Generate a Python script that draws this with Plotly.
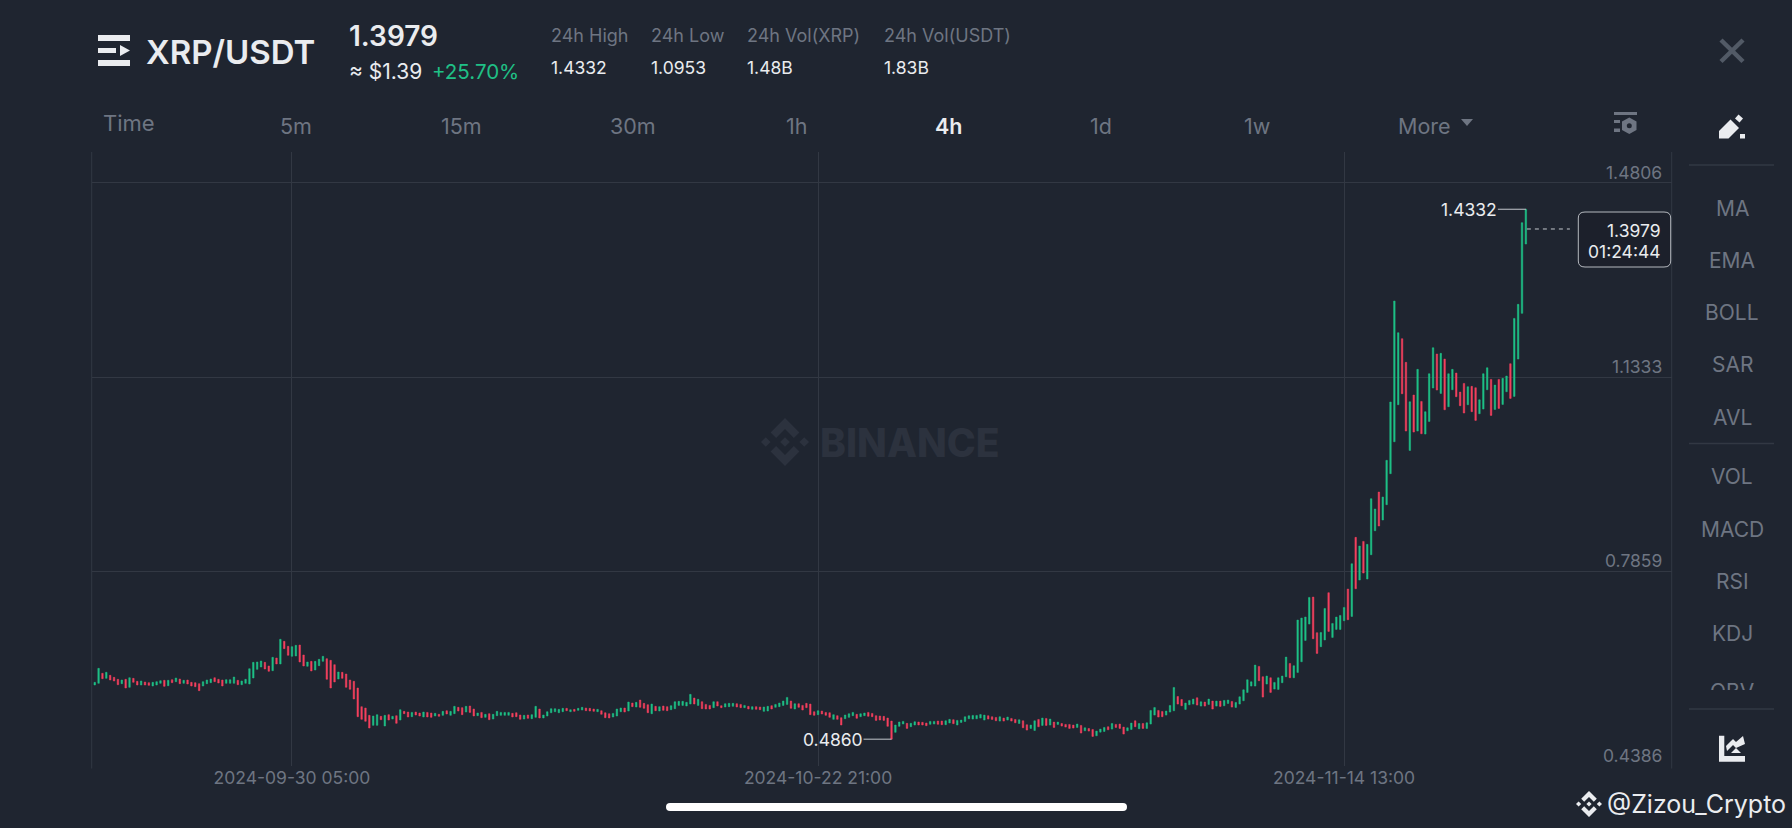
import pandas as pd
import plotly.graph_objects as go

W = 1792
H = 828
BG = "#1f2530"
GRID = "#323843"
GRAY = "#6e7582"
WHITE = "#eaecef"
UP = "#1fc086"
DOWN = "#f5405e"
FONT = "Inter"

first_candle = "2024-09-21 17:00"
x_range = ["2024-09-21 13:53", "2024-11-28 15:48"]
x_ticks = ["2024-09-30 05:00", "2024-10-22 21:00", "2024-11-14 13:00"]
y_range = [0.4386, 1.5355]
y_ticks = [0.4386, 0.7859, 1.1333, 1.4806]
y_tick_labels = ["0.4386", "0.7859", "1.1333", "1.4806"]
period_high = 1.4332
period_low = 0.4860
last_price = 1.3979

candle_high = [
    .5876, .6126, .6037, .6055, .6001, .5965, .5930, .5918, .5930, .5959,
    .5947, .5894, .5900, .5882, .5870, .5876, .5888, .5906, .5912, .5912,
    .5924, .5953, .5935, .5912, .5918, .5876, .5870, .5852, .5888, .5918,
    .5935, .5959, .5930, .5918, .5924, .5924, .5971, .5912, .5900, .5930,
    .6120, .6233, .6239, .6257, .6233, .6168, .6323, .6311, .6645, .6609,
    .6520, .6514, .6537, .6543, .6365, .6239, .6251, .6251, .6287, .6341,
    .6299, .6269, .6192, .6061, .6055, .6025, .5918, .5894, .5775, .5441,
    .5417, .5286, .5274, .5298, .5268, .5286, .5298, .5268, .5280, .5387,
    .5357, .5345, .5339, .5345, .5328, .5345, .5339, .5328, .5322, .5304,
    .5357, .5369, .5357, .5447, .5429, .5423, .5447, .5453, .5399, .5328,
    .5339, .5304, .5316, .5304, .5357, .5339, .5339, .5339, .5322, .5333,
    .5292, .5286, .5292, .5298, .5447, .5399, .5292, .5351, .5405, .5405,
    .5393, .5411, .5411, .5387, .5393, .5411, .5429, .5417, .5411, .5399,
    .5393, .5369, .5333, .5315, .5321, .5399, .5417, .5417, .5524, .5506,
    .5518, .5560, .5500, .5476, .5488, .5447, .5441, .5453, .5441, .5459,
    .5530, .5536, .5536, .5518, .5661, .5596, .5572, .5530, .5482, .5464,
    .5530, .5530, .5459, .5494, .5500, .5500, .5494, .5482, .5464, .5447,
    .5441, .5441, .5435, .5435, .5447, .5459, .5482, .5506, .5542, .5607,
    .5542, .5494, .5494, .5464, .5500, .5488, .5351, .5369, .5363, .5339,
    .5333, .5298, .5280, .5244, .5292, .5315, .5339, .5304, .5315, .5327,
    .5339, .5321, .5280, .5274, .5268, .5238, .5184, .5113, .5167, .5178,
    .5143, .5143, .5172, .5167, .5161, .5149, .5178, .5178, .5184, .5184,
    .5190, .5214, .5208, .5196, .5201, .5261, .5279, .5285, .5285, .5302,
    .5290, .5279, .5261, .5249, .5261, .5237, .5255, .5231, .5213, .5207,
    .5189, .5118, .5112, .5189, .5213, .5237, .5231, .5219, .5165, .5165,
    .5141, .5124, .5124, .5112, .5130, .5106, .5064, .5052, .5034, .5004,
    .5040, .5070, .5082, .5141, .5124, .5130, .5076, .5064, .5147, .5189,
    .5141, .5141, .5153, .5374, .5427, .5374, .5356, .5362, .5463, .5785,
    .5624, .5570, .5505, .5553, .5576, .5600, .5529, .5523, .5576, .5541,
    .5541, .5541, .5553, .5559, .5535, .5517, .5618, .5743, .5922, .5886,
    .6184, .6161, .5976, .5988, .5958, .5875, .5958, .5988, .6327, .6214,
    .6173, .6989, .7025, .7043, .7394, .7400, .6763, .6768, .7197, .7478,
    .6929, .7042, .7072, .7215, .7543, .7996, .8467, .8312, .8395, .8342,
    .9158, .8974, .9277, .9188, .9844, 1.0887, 1.2691, 1.2125, 1.2018, 1.1595,
    1.0891, 1.1011, 1.1470, 1.0897, 1.0713, 1.1392, 1.1857, 1.1744, 1.1756, 1.1654,
    1.1392, 1.1470, 1.1404, 1.1064, 1.1219, 1.1160, 1.1166, 1.1142, 1.0927, 1.1392,
    1.1499, 1.1291, 1.1189, 1.1291, 1.1309, 1.1350, 1.1571, 1.2381, 1.2632, 1.4092,
    1.4332,
]

candle_low = [
    .5828, .5858, .5941, .5947, .5918, .5900, .5834, .5852, .5775, .5787,
    .5876, .5828, .5828, .5828, .5822, .5810, .5828, .5858, .5804, .5816,
    .5870, .5888, .5852, .5858, .5846, .5810, .5798, .5727, .5810, .5852,
    .5870, .5888, .5864, .5810, .5858, .5858, .5858, .5834, .5834, .5858,
    .5846, .5953, .6108, .6150, .6114, .6073, .6084, .6204, .6204, .6478,
    .6359, .6341, .6347, .6239, .6168, .6162, .6079, .6096, .6174, .6251,
    .5930, .5775, .5882, .5935, .5947, .5787, .5751, .5578, .5262, .5214,
    .5179, .5059, .5107, .5107, .5208, .5095, .5202, .5220, .5143, .5202,
    .5316, .5256, .5262, .5292, .5274, .5256, .5256, .5250, .5274, .5268,
    .5286, .5310, .5286, .5316, .5363, .5298, .5345, .5339, .5274, .5280,
    .5244, .5250, .5208, .5220, .5280, .5286, .5286, .5286, .5256, .5262,
    .5214, .5220, .5232, .5226, .5250, .5238, .5238, .5274, .5333, .5351,
    .5333, .5351, .5369, .5351, .5357, .5375, .5381, .5369, .5363, .5357,
    .5351, .5304, .5244, .5238, .5256, .5274, .5351, .5345, .5363, .5441,
    .5435, .5429, .5411, .5333, .5315, .5369, .5363, .5375, .5369, .5387,
    .5405, .5464, .5464, .5453, .5488, .5488, .5464, .5405, .5399, .5399,
    .5423, .5453, .5423, .5435, .5441, .5447, .5435, .5423, .5423, .5399,
    .5393, .5393, .5387, .5357, .5363, .5399, .5429, .5441, .5464, .5482,
    .5411, .5399, .5429, .5381, .5423, .5298, .5286, .5298, .5310, .5286,
    .5250, .5214, .5214, .5113, .5226, .5250, .5280, .5232, .5262, .5280,
    .5268, .5262, .5196, .5202, .5196, .5089, .4860, .4982, .5089, .5131,
    .5053, .5083, .5113, .5113, .5113, .5101, .5125, .5131, .5125, .5119,
    .5119, .5149, .5137, .5113, .5159, .5177, .5225, .5219, .5225, .5237,
    .5201, .5219, .5213, .5189, .5183, .5183, .5201, .5183, .5153, .5141,
    .5064, .5022, .5052, .5016, .5082, .5106, .5106, .5112, .5070, .5124,
    .5094, .5076, .5052, .5058, .5070, .4969, .5010, .5004, .4909, .4921,
    .4986, .4998, .5028, .5040, .5070, .5052, .4951, .5010, .5034, .5082,
    .5046, .5052, .5052, .5130, .5290, .5255, .5261, .5290, .5344, .5368,
    .5487, .5457, .5392, .5475, .5487, .5469, .5451, .5451, .5481, .5398,
    .5451, .5445, .5457, .5499, .5433, .5428, .5487, .5547, .5696, .5809,
    .5809, .5904, .5612, .5845, .5696, .5755, .5749, .5869, .5976, .5958,
    .5958, .6053, .6244, .6625, .6917, .6655, .6393, .6513, .6633, .6786,
    .6679, .6822, .6822, .6977, .6995, .7054, .7549, .7704, .7829, .7722,
    .8157, .8586, .8670, .8777, .9051, .9605, 1.0176, 1.0838, 1.1034, 1.0367,
    1.0021, 1.0349, 1.0367, 1.0319, 1.0313, 1.0540, 1.1136, 1.1100, 1.1040, 1.0748,
    1.0802, 1.1106, 1.0981, 1.0820, 1.0689, 1.0838, 1.0713, 1.0558, 1.0677, 1.0760,
    1.1106, 1.0647, 1.0754, 1.0772, 1.0844, 1.1070, 1.0951, 1.0987, 1.1654, 1.2471,
    1.3710,
]

# g = up candle, r = down candle, ten per chunk
candle_dir = (
    "ggrgrrrgrg" "rrgrrgggrg" "rgrgrrrrgg" "grrrgggrgg" "ggggrrgrgr"
    "rggrrgrggg" "rrrgrrrrrr" "rrggrgrgrg" "rrgrrgrrgr" "grggrrgrrg"
    "rgrgggggrr" "rgrggrgggg" "ggrgrggrrr" "grrrgggrgr" "grrrgrgrrg"
    "gggggrgrrr" "grrgggrrgr" "grrggrgggg" "rgrrrrrgrr" "rgrrgggrgg"
    "rrrrrrrggg" "rggrrrggrr" "ggrggggggg" "grrrgrgrrg" "rrggrgrgrg"
    "rrrrgrgrrg" "ggrgrrrggr" "grgggrrggg" "rrgggrgrgr" "grggrggggg"
    "grrgrggggr" "gggggrrggr" "ggggrgrgrg" "ggrgggggrr" "grgrgggrgr"
    "ggrrrgrrgg" "grgrggrggg" "g"
)

header_labels = ["24h High", "24h Low", "24h Vol(XRP)", "24h Vol(USDT)"]
header_values = ["1.4332", "1.0953", "1.48B", "1.83B"]
header_x = [551.5, 651.5, 747, 884]
intervals = ["5m", "15m", "30m", "1h", "4h", "1d", "1w", "More"]
interval_x = [296, 461.7, 633, 796.6, 948.6, 1100.6, 1257, 1424]
indicators = ["MA", "EMA", "BOLL", "SAR", "AVL", "VOL", "MACD", "RSI", "KDJ"]
indicator_y = [208, 260.6, 312, 364.6, 417, 476.6, 529, 581.7, 633]

dates = pd.date_range(first_candle, periods=len(candle_high), freq="4h")
opens = [l if d == "g" else h for h, l, d in zip(candle_high, candle_low, candle_dir)]
closes = [h if d == "g" else l for h, l, d in zip(candle_high, candle_low, candle_dir)]


def px(x):
    return x / W


def py(y):
    return 1 - y / H


def text(x, y, s, size, color=GRAY, anchor="left", weight=400, **kw):
    # annotation boxes have a little padding, cancel it on the anchored side
    shift = {"left": -2.5, "right": 2.5, "center": 0}[anchor]
    return dict(x=px(x), y=py(y), xref="paper", yref="paper", text=s, showarrow=False,
                xanchor=anchor, yanchor=kw.pop("yanchor", "middle"), xshift=shift,
                font=dict(family=FONT, size=size, color=color, weight=weight), **kw)


def poly(points, color, layer="above"):
    path = "M" + " L".join(f"{px(x):.5f},{py(y):.5f}" for x, y in points) + " Z"
    return dict(type="path", path=path, xref="paper", yref="paper", fillcolor=color,
                line=dict(width=0), layer=layer)


def seg(x0, y0, x1, y1, color, width=1, layer="above", dash=None):
    return dict(type="line", x0=px(x0), y0=py(y0), x1=px(x1), y1=py(y1), xref="paper", yref="paper",
                line=dict(color=color, width=width, dash=dash), layer=layer)


def rect(x0, y0, x1, y1, color):
    return poly([(x0, y0), (x1, y0), (x1, y1), (x0, y1)], color)


def logo(cx, cy, r, color, layer="above"):
    out = []
    for dx, dy in [(0, 0), (-.8, 0), (.8, 0)]:
        out.append(poly([(cx + (dx) * r, cy - .2 * r), (cx + (dx + .2) * r, cy),
                         (cx + dx * r, cy + .2 * r), (cx + (dx - .2) * r, cy)], color, layer))
    for s in (-1, 1):
        out.append(poly([(cx, cy + s * r), (cx + .6 * r, cy + s * .4 * r), (cx + .37 * r, cy + s * .17 * r),
                         (cx, cy + s * .54 * r), (cx - .37 * r, cy + s * .17 * r), (cx - .6 * r, cy + s * .4 * r)],
                        color, layer))
    return out


fig = go.Figure(go.Candlestick(
    x=dates, open=opens, high=candle_high, low=candle_low, close=closes,
    increasing=dict(line=dict(color=UP, width=0.5), fillcolor=UP),
    decreasing=dict(line=dict(color=DOWN, width=0.5), fillcolor=DOWN),
    whiskerwidth=0, hoverinfo="skip", showlegend=False,
))

annotations = [
    text(146, 52, "XRP/USDT", 33, WHITE, weight=600),
    text(349, 36.5, "1.3979", 28, WHITE, weight=600),
    text(349, 71.5, "≈ $1.39", 21, WHITE),
    text(432, 71.5, "+25.70%", 20.5, UP),
    text(103, 123, "Time", 22),
]
for label, value, x in zip(header_labels, header_values, header_x):
    annotations.append(text(x, 36, label, 18))
    annotations.append(text(x, 67.5, value, 17.5, WHITE))
for name, x in zip(intervals, interval_x):
    annotations.append(text(x, 126, name, 21.5, WHITE if name == "4h" else GRAY, "center",
                            weight=600 if name == "4h" else 400))
for name, y in zip(indicators, indicator_y):
    annotations.append(text(1732, y, name, 21, GRAY, "center"))
annotations.append(text(1732, 677, "OBV", 21, GRAY, "center", yanchor="top", height=11, valign="top"))

# price labels sit just above their grid lines
for value, label in zip(y_ticks, y_tick_labels):
    annotations.append(dict(x=px(1661), y=value, xref="paper", yref="y", text=label, showarrow=False,
                            xanchor="right", yanchor="bottom", yshift=-2, xshift=2.5,
                            font=dict(family=FONT, size=17.5, color=GRAY)))

annotations += [
    dict(x=dates[-1], y=period_high, text=f"{period_high:.4f}", showarrow=False, xanchor="right", xshift=-27,
         font=dict(family=FONT, size=17.5, color=WHITE)),
    dict(x=dates[206], y=period_low, text=f"{period_low:.4f}", showarrow=False, xanchor="right", xshift=-27,
         font=dict(family=FONT, size=17.5, color=WHITE)),
    text(1660.5, 230, f"{last_price:.4f}", 17.5, WHITE, "right"),
    text(1660.5, 251.7, "01:24:44", 17.5, WHITE, "right"),
    text(820, 442, "BINANCE", 39, "#2c323e", weight=800),
    text(1607, 804, "@Zizou_Crypto", 25, WHITE),
]

shapes = [
    seg(91.7, 152, 91.7, 768.5, GRID, layer="below"),
    seg(1671.7, 152, 1671.7, 768.5, GRID, layer="below"),
    seg(1689, 165, 1774, 165, GRID, 1.5),
    seg(1689, 443.5, 1774, 443.5, GRID, 1.5),
    seg(1689, 709, 1774, 709, GRID, 1.5),
    # high / low leader lines and last price line
    dict(type="line", xref="x", yref="y", xsizemode="pixel", xanchor=dates[-1], x0=-28, x1=0,
         y0=period_high, y1=period_high, line=dict(color="#c4c8ce", width=1)),
    dict(type="line", xref="x", yref="y", xsizemode="pixel", xanchor=dates[206], x0=-28, x1=0,
         y0=period_low, y1=period_low, line=dict(color="#c4c8ce", width=1)),
    dict(type="line", xref="x", yref="y", xsizemode="pixel", xanchor=dates[-1], x0=1, x1=44,
         y0=last_price, y1=last_price, line=dict(color="#c4c8ce", width=1, dash="4px,4px")),
    # last price box
    dict(type="path", xref="paper", yref="paper", fillcolor="#1c202b", line=dict(color="#b5b9bf", width=1),
         path="M{} {} L{} {} Q{} {} {} {} L{} {} Q{} {} {} {} L{} {} Q{} {} {} {} L{} {} Q{} {} {} {} Z".format(
             px(1585), py(212), px(1664), py(212), px(1670.7), py(212), px(1670.7), py(218),
             px(1670.7), py(261), px(1670.7), py(267), px(1664), py(267),
             px(1585), py(267), px(1578.3), py(267), px(1578.3), py(261),
             px(1578.3), py(218), px(1578.3), py(212), px(1585), py(212))),
    # menu icon
    rect(98, 35, 130, 41, WHITE),
    rect(98, 48, 116, 53, WHITE),
    rect(98, 60, 130, 66, WHITE),
    poly([(120, 45), (130, 50.5), (120, 56)], WHITE),
    # close
    seg(1721, 40, 1743, 61.5, "#525a66", 4.5),
    seg(1743, 40, 1721, 61.5, "#525a66", 4.5),
    # settings icon
    rect(1614, 112, 1637, 115, GRAY),
    rect(1614, 120, 1620, 123, GRAY),
    rect(1614, 128.5, 1620, 132, GRAY),
    poly([(1629.3, 117.5), (1636.5, 121.5), (1636.5, 130), (1629.3, 134), (1622, 130), (1622, 121.5)], GRAY),
    dict(type="circle", xref="paper", yref="paper", x0=px(1626.8), x1=px(1631.8), y0=py(123.3), y1=py(128.3),
         fillcolor=BG, line=dict(width=0)),
    # triangle after More
    poly([(1461, 119), (1473, 119), (1467, 126)], GRAY),
    # pencil icon
    poly([(1719, 138.5), (1719, 131), (1730.5, 119.5), (1739, 128), (1728.5, 138.5)], WHITE),
    poly([(1735, 118.5), (1738.5, 114.5), (1743, 118.5), (1739.5, 122.5)], WHITE),
    rect(1740, 134, 1745, 138.5, WHITE),
    # chart icon
    poly([(1719, 735.7), (1724.3, 735.7), (1724.3, 756), (1745, 756), (1745, 761.7), (1719, 761.7)], WHITE),
    poly([(1726, 746), (1733, 739), (1736, 742), (1743, 736), (1745, 744), (1736, 748), (1733, 745), (1727, 751)], WHITE),
    poly([(1731, 753), (1741, 753), (1736, 748)], WHITE),
    # home indicator
    dict(type="path", xref="paper", yref="paper", fillcolor="#ffffff", line=dict(width=0),
         path="M{} {} L{} {} Q{} {} {} {} Q{} {} {} {} L{} {} Q{} {} {} {} Q{} {} {} {} Z".format(
             px(670), py(803), px(1123), py(803), px(1127), py(803), px(1127), py(807),
             px(1127), py(811), px(1123), py(811), px(670), py(811),
             px(666), py(811), px(666), py(807), px(666), py(803), px(670), py(803))),
]
shapes += logo(785, 442, 24, "#2c323e", "below")
shapes += logo(1589, 804, 13, WHITE)

fig.update_layout(
    width=W, height=H, autosize=False,
    margin=dict(l=0, r=0, t=0, b=0),
    paper_bgcolor=BG, plot_bgcolor=BG,
    boxgap=0.45,
    showlegend=False,
    annotations=annotations,
    shapes=shapes,
    xaxis=dict(
        domain=[px(91.7), px(1671.7)], range=x_range, type="date",
        rangeslider=dict(visible=False),
        tickvals=x_ticks, tickformat="%Y-%m-%d %H:%M",
        tickfont=dict(family=FONT, size=17.5, color=GRAY),
        showgrid=True, gridcolor=GRID, gridwidth=1, zeroline=False,
        showline=False, ticks="",
    ),
    yaxis=dict(
        domain=[py(765.7), py(152)], range=y_range, side="right",
        tickvals=y_ticks, showticklabels=False,
        showgrid=True, gridcolor=GRID, gridwidth=1, zeroline=False, showline=False, ticks="",
    ),
)

fig.write_html("out.html", config=dict(displayModeBar=False),
               post_script="document.body.style.margin='0';")
